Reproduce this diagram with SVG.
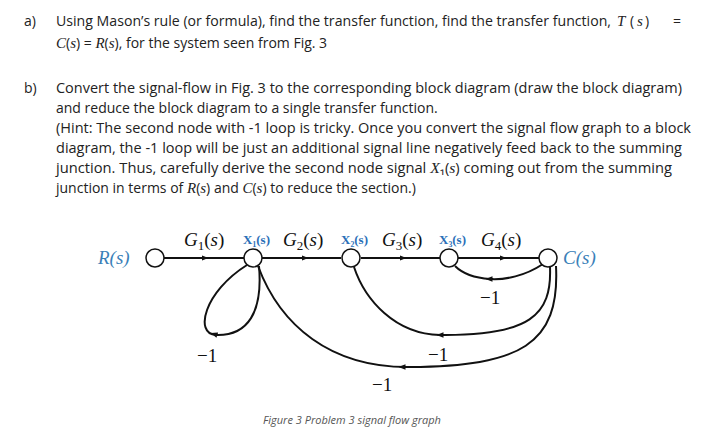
<svg xmlns="http://www.w3.org/2000/svg" width="709" height="439" viewBox="0 0 709 439">
<style>
.t{font-family:"Open Sans","Liberation Sans",sans-serif;font-size:14px;fill:#222}
.m{font-family:"Liberation Serif",serif;font-style:italic;font-size:15px;fill:#222}
.g{font-family:"Liberation Serif",serif;font-size:19px;fill:#111}
.x{font-family:"Liberation Serif",serif;font-size:13px;fill:#2a6fb8;font-weight:bold}
.b{font-family:"Liberation Serif",serif;font-size:19px;fill:#3a7fb8}
.n{fill:#fff;stroke:#111;stroke-width:1.5}
.e{fill:none;stroke:#111;stroke-width:2}
</style>
<defs><marker id="a" viewBox="0 0 10 10" refX="5" refY="5" markerWidth="7" markerHeight="7" orient="auto" markerUnits="userSpaceOnUse"><path d="M0,1L10,5L0,9z" fill="#111"/></marker></defs>
<g id="text">
<text class="t" x="24" y="26">a)</text>
<text class="t" x="56" y="26" textLength="555" lengthAdjust="spacingAndGlyphs">Using Mason’s rule (or formula), find the transfer function, find the transfer function,</text>
<text class="m" x="617" y="26">T</text><text class="t" x="630" y="26">(</text><text class="m" x="637" y="26">s</text><text class="t" x="645" y="26">)</text>
<text class="t" x="673" y="26">=</text>
<text class="t" x="56" y="48"><tspan class="m">C</tspan>(<tspan class="m">s</tspan>) = <tspan class="m">R</tspan>(<tspan class="m">s</tspan>), for the system seen from Fig. 3</text>
<text class="t" x="24" y="93">b)</text>
<text class="t" x="56" y="93" textLength="626" lengthAdjust="spacingAndGlyphs">Convert the signal-flow in Fig. 3 to the corresponding block diagram (draw the block diagram)</text>
<text class="t" x="56" y="113">and reduce the block diagram to a single transfer function.</text>
<text class="t" x="56" y="133" textLength="635" lengthAdjust="spacingAndGlyphs">(Hint: The second node with -1 loop is tricky. Once you convert the signal flow graph to a block</text>
<text class="t" x="56" y="153" textLength="626" lengthAdjust="spacingAndGlyphs">diagram, the -1 loop will be just an additional signal line negatively feed back to the summing</text>
<text class="t" x="56" y="173" textLength="616" lengthAdjust="spacingAndGlyphs">junction. Thus, carefully derive the second node signal <tspan class="m">X</tspan>₁(<tspan class="m">s</tspan>) coming out from the summing</text>
<text class="t" x="56" y="193">junction in terms of <tspan class="m">R</tspan>(<tspan class="m">s</tspan>) and <tspan class="m">C</tspan>(<tspan class="m">s</tspan>) to reduce the section.)</text>
</g>
<g id="connectors">
<path class="e" d="M164,258H244" /><path d="M180,258L205,258" class="e" marker-end="url(#a)"/>
<path class="e" d="M262,258H341"/><path d="M280,258L305,258" class="e" marker-end="url(#a)"/>
<path class="e" d="M361,258H440"/><path d="M378,258L403,258" class="e" marker-end="url(#a)"/>
<path class="e" d="M458,258H539"/><path d="M478,258L503,258" class="e" marker-end="url(#a)"/>
<path class="e" d="M259,266C263,312 248,336 216,335C194,334 204,292 247,265"/>
<path class="e" d="M217,335 L214,334" marker-end="url(#a)"/>
<path class="e" d="M543,264C525,276 505,280 490,279C475,278 463,274 455,266"/>
<path class="e" d="M493,279L489,279" marker-end="url(#a)"/>
<path class="e" d="M550,267C552,315 530,336 440,335C395,334 365,300 354,267"/>
<path class="e" d="M444,335L440,335" marker-end="url(#a)"/>
<path class="e" d="M556,266C560,345 520,366 410,367C330,368 280,325 258,266"/>
<path class="e" d="M406,367L402,367" marker-end="url(#a)"/>
</g>
<g id="nodeR"><circle class="n" cx="155" cy="258" r="9"/><text class="b" x="98" y="264" font-style="italic">R(s)</text></g>
<g id="nodeX1"><circle class="n" cx="253" cy="258" r="9"/></g>
<g id="nodeX2"><circle class="n" cx="351" cy="258" r="9"/></g>
<g id="nodeX3"><circle class="n" cx="449" cy="258" r="9"/></g>
<g id="nodeC"><circle class="n" cx="548" cy="258" r="9"/><text class="b" x="563" y="264" font-style="italic">C(s)</text></g>
<g id="labels">
<text class="g" x="184" y="246"><tspan font-style="italic">G</tspan><tspan font-size="13" dy="4">1</tspan><tspan dy="-4">(</tspan><tspan font-style="italic">s</tspan>)</text>
<text class="x" x="243" y="244">X₁(s)</text>
<text class="g" x="283" y="246"><tspan font-style="italic">G</tspan><tspan font-size="13" dy="4">2</tspan><tspan dy="-4">(</tspan><tspan font-style="italic">s</tspan>)</text>
<text class="x" x="341" y="244">X₂(s)</text>
<text class="g" x="382" y="246"><tspan font-style="italic">G</tspan><tspan font-size="13" dy="4">3</tspan><tspan dy="-4">(</tspan><tspan font-style="italic">s</tspan>)</text>
<text class="x" x="439" y="244">X₃(s)</text>
<text class="g" x="481" y="246"><tspan font-style="italic">G</tspan><tspan font-size="13" dy="4">4</tspan><tspan dy="-4">(</tspan><tspan font-style="italic">s</tspan>)</text>
<text class="g" x="197" y="362">−1</text>
<text class="g" x="480" y="304">−1</text>
<text class="g" x="428" y="361">−1</text>
<text class="g" x="372" y="391">−1</text>
<text x="352" y="424" text-anchor="middle" font-family="Open Sans,Liberation Sans,sans-serif" font-size="11" font-style="italic" fill="#555">Figure 3 Problem 3 signal flow graph</text>
</g>
</svg>
